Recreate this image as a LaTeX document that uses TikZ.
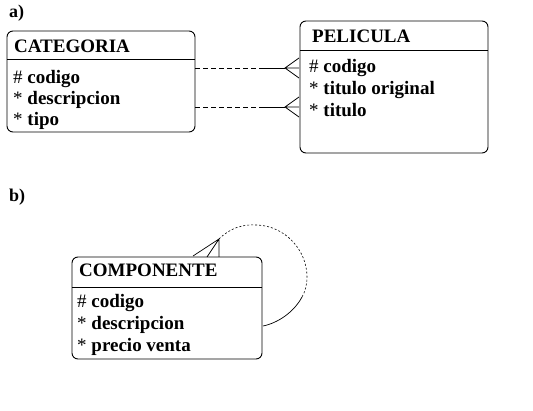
\documentclass[tikz,border=0pt]{standalone}
\usepackage{fontspec}
\setmainfont{Liberation Serif}
\begin{document}
\begin{tikzpicture}[x=1pt,y=-1pt,
  ent/.style={draw,line width=0.9pt,rounded corners=6pt},
  sep/.style={line width=0.9pt},
  txt/.style={anchor=base west,inner sep=0pt,font=\fontsize{19}{21}\selectfont\bfseries},
  lbl/.style={anchor=base west,inner sep=0pt,font=\fontsize{18}{20}\selectfont\bfseries},
  conn/.style={line width=0.8pt},
  dconn/.style={line width=0.8pt,dash pattern=on 5pt off 3pt},
  lconn/.style={line width=0.6pt,dash pattern=on 2pt off 2pt},
  slconn/.style={line width=0.7pt}]
\useasboundingbox (0,0) rectangle (533,411);
% labels
\node[lbl] (la) at (9,18) {a)};
\node[lbl] (lb) at (9,202) {b)};
% CATEGORIA
\draw[ent] (7,31) rectangle (195,132);
\coordinate (catTL) at (7,59); \coordinate (catTR) at (195,59);
\draw[sep] (catTL) -- (catTR);
\node[txt] (catt) at (14,53) {CATEGORIA};
\node[txt] (cat1) at (13,84) {\mdseries\#\bfseries{} codigo};
\node[txt] (cat2) at (13,105) {\mdseries*\bfseries{} descripcion};
\node[txt] (cat3) at (13,126) {\mdseries*\bfseries{} tipo};
% PELICULA
\draw[ent] (300,21) rectangle (488,153);
\coordinate (pelL) at (300,50); \coordinate (pelR) at (488,50);
\draw[sep] (pelL) -- (pelR);
\node[txt] (pelt) at (312,43) {PELICULA};
\node[txt] (pel1) at (309,73) {\mdseries\#\bfseries{} codigo};
\node[txt] (pel2) at (309,95) {\mdseries*\bfseries{} titulo original};
\node[txt] (pel3) at (309,117) {\mdseries*\bfseries{} titulo};
% relation 1
\coordinate (r1a) at (195,68); \coordinate (r1m) at (262,68); \coordinate (r1c) at (285,68);
\coordinate (r1t) at (299,58); \coordinate (r1e) at (299,68); \coordinate (r1b) at (299,78);
\draw[dconn] (r1a) -- (r1m);
\draw[conn] (r1m) -- (r1c);
\draw[conn] (r1t) -- (r1c) -- (r1b) (r1c) -- (r1e);
% relation 2
\coordinate (r2a) at (195,107); \coordinate (r2m) at (262,107); \coordinate (r2c) at (285,107);
\coordinate (r2t) at (299,97); \coordinate (r2e) at (299,107); \coordinate (r2b) at (299,117);
\draw[dconn] (r2a) -- (r2m);
\draw[conn] (r2m) -- (r2c);
\draw[conn] (r2t) -- (r2c) -- (r2b) (r2c) -- (r2e);
% COMPONENTE
\draw[ent] (72,257) rectangle (262,359);
\coordinate (comL) at (72,287); \coordinate (comR) at (262,287);
\draw[sep] (comL) -- (comR);
\node[txt] (comt) at (79,277) {COMPONENTE};
\node[txt] (com1) at (77,308) {\mdseries\#\bfseries{} codigo};
\node[txt] (com2) at (77,330) {\mdseries*\bfseries{} descripcion};
\node[txt] (com3) at (77,352) {\mdseries*\bfseries{} precio venta};
% self relation
\coordinate (sa) at (219,239);
\coordinate (sf1) at (193,256); \coordinate (sf2) at (207,257); \coordinate (sf3) at (219,257);
\coordinate (st) at (257,225); \coordinate (sr) at (307,277); \coordinate (sm) at (302,297);
\coordinate (se) at (263,326);
\draw[slconn] (sf1) -- (sa) -- (sf2) (sa) -- (sf3);
\draw[lconn] (sa) .. controls (230,228) and (243,224) .. (st)
  .. controls (285,226) and (307,250) .. (sr)
  .. controls (307,285) and (305,292) .. (sm);
\draw[slconn] (sm) .. controls (294,312) and (278,323) .. (se);
\end{tikzpicture}
\end{document}
